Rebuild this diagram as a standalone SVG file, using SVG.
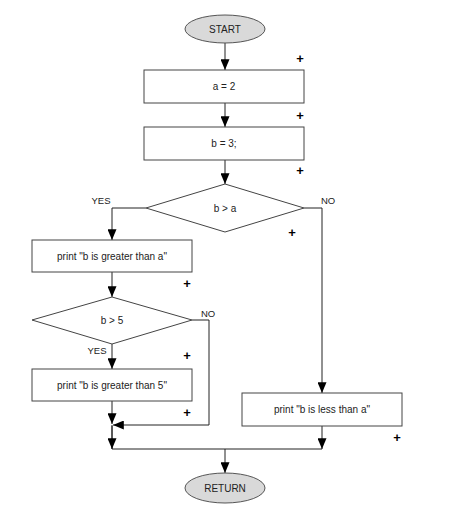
<svg xmlns="http://www.w3.org/2000/svg" width="474" height="511" viewBox="0 0 474 511">
<defs>
<marker id="ah" viewBox="0 0 12 10" refX="12" refY="5" markerWidth="11" markerHeight="9" markerUnits="userSpaceOnUse" orient="auto">
<path d="M0,0 L12,5 L0,10 z" fill="#000"/>
</marker>
<style>
.box{fill:#fff;stroke:#444;stroke-width:1}
.term{fill:#d9d9d9;stroke:#555;stroke-width:1}
.t{font-family:"Liberation Sans",Arial,sans-serif;font-size:10px;fill:#222;text-anchor:middle;dominant-baseline:central}
.lbl{font-family:"Liberation Sans",Arial,sans-serif;font-size:9.5px;fill:#222;text-anchor:middle}
.c{fill:none;stroke:#222;stroke-width:1}
.a{fill:none;stroke:#222;stroke-width:1;marker-end:url(#ah)}
.p{font-family:"Liberation Sans",Arial,sans-serif;font-size:13px;font-weight:bold;fill:#000;text-anchor:middle}
</style>
</defs>
<rect width="474" height="511" fill="#fff"/>
<g id="connectors">
<path class="a" d="M225,43 V70"/>
<path class="a" d="M225,103 V127"/>
<path class="a" d="M225,160 V184"/>
<path class="a" d="M146,208 H112 V240"/>
<path class="a" d="M304,208 H322 V393"/>
<path class="a" d="M112,272 V297"/>
<path class="a" d="M112,344 V369"/>
<path class="a" d="M192,320 H209 V425 H113"/>
<path class="a" d="M112,401 V424"/>
<path class="c" d="M112,425 V449 H322"/>
<path class="a" d="M112,426 V449"/>
<path class="a" d="M322,426 V449"/>
<path class="a" d="M225,449 V473"/>
<text class="lbl" x="101" y="204">YES</text>
<text class="lbl" x="328" y="204">NO</text>
<text class="lbl" x="208" y="317">NO</text>
<text class="lbl" x="97" y="354">YES</text>
</g>
<g id="start"><ellipse class="term" cx="225" cy="29" rx="40" ry="14"/><text class="t" x="225" y="29">START</text></g>
<g id="a2"><rect class="box" x="144" y="70" width="160" height="33"/><text class="t" x="224" y="86.5">a = 2</text></g>
<g id="b3"><rect class="box" x="144" y="127" width="160" height="33"/><text class="t" x="224" y="143.5">b = 3;</text></g>
<g id="dec1"><polygon class="box" points="225,184 304,208 225,232 146,208"/><text class="t" x="225" y="208">b &gt; a</text></g>
<g id="p1"><rect class="box" x="32" y="240" width="160" height="32"/><text class="t" x="112" y="256">print "b is greater than a"</text></g>
<g id="dec2"><polygon class="box" points="112,297 192,320 112,344 32,320"/><text class="t" x="112" y="320">b &gt; 5</text></g>
<g id="p2"><rect class="box" x="32" y="369" width="160" height="32"/><text class="t" x="112" y="385">print "b is greater than 5"</text></g>
<g id="p3"><rect class="box" x="242" y="393" width="160" height="33"/><text class="t" x="322" y="409.5">print "b is less than a"</text></g>
<g id="return"><ellipse class="term" cx="225" cy="488" rx="40" ry="15"/><text class="t" x="225" y="488">RETURN</text></g>
<g id="marks">
<text class="p" x="300" y="63">+</text>
<text class="p" x="300" y="120">+</text>
<text class="p" x="300" y="175">+</text>
<text class="p" x="292" y="237">+</text>
<text class="p" x="187" y="288">+</text>
<text class="p" x="187" y="360">+</text>
<text class="p" x="187" y="417">+</text>
<text class="p" x="397" y="442">+</text>
</g>
</svg>
